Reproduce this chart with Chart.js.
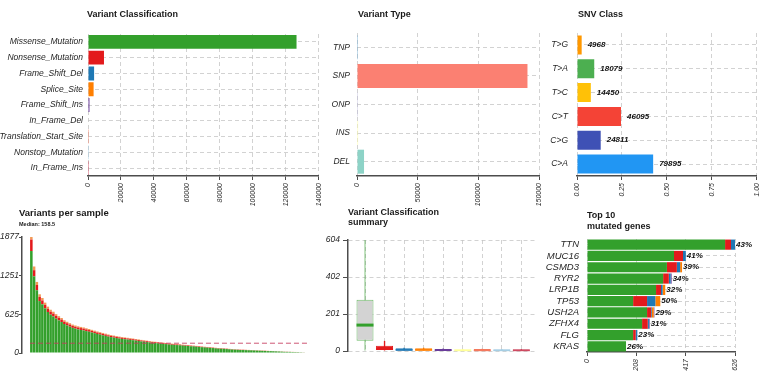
<!DOCTYPE html>
<html>
<head>
<meta charset="utf-8">
<title>MAF summary</title>
<script src="https://cdn.jsdelivr.net/npm/chart.js@4.4.1/dist/chart.umd.min.js"></script>
<style>
  body { margin: 0; background: #fff; }
  #page { position: relative; width: 768px; height: 384px; overflow: hidden; font-family: "Liberation Sans", Arial, sans-serif; }
  #page canvas { position: absolute; }
  .title { position: absolute; font-weight: bold; font-size: 9px; line-height: 11px; color: #1a1a1a; white-space: nowrap; }
  .sub { position: absolute; font-weight: bold; font-size: 5.5px; line-height: 6px; color: #1a1a1a; white-space: nowrap; }
</style>
</head>
<body>
<div id="page">
  <canvas id="varClassChart" width="330" height="215" style="left:0;top:0"></canvas>
  <canvas id="varTypeChart" width="240" height="215" style="left:320px;top:0"></canvas>
  <canvas id="snvClassChart" width="228" height="215" style="left:540px;top:0"></canvas>
  <canvas id="perSampleChart" width="330" height="184" style="left:0;top:200px"></canvas>
  <canvas id="classSummaryChart" width="244" height="184" style="left:316px;top:200px"></canvas>
  <canvas id="topGenesChart" width="228" height="184" style="left:540px;top:200px"></canvas>

  <div class="title" style="left:87px;top:9px">Variant Classification</div>
  <div class="title" style="left:358px;top:9px">Variant Type</div>
  <div class="title" style="left:578px;top:9px">SNV Class</div>
  <div class="title" style="left:19px;top:207px;font-size:9.5px">Variants per sample</div>
  <div class="sub" style="left:19px;top:221px">Median: 158.5</div>
  <div class="title" style="left:348px;top:207px;line-height:10px">Variant Classification<br>summary</div>
  <div class="title" style="left:587px;top:210px">Top 10<br>mutated genes</div>
</div>
<script>
// ---- data ----
const varClassLabels = ['Missense_Mutation', 'Nonsense_Mutation', 'Frame_Shift_Del', 'Splice_Site', 'Frame_Shift_Ins',
    'In_Frame_Del', 'Translation_Start_Site', 'Nonstop_Mutation', 'In_Frame_Ins'];
const varClassCounts = [126600, 9700, 3700, 3400, 900, 300, 60, 40, 30];
const varClassTicks = [0, 20000, 40000, 60000, 80000, 100000, 120000, 140000];

const varTypeLabels = ['TNP', 'SNP', 'ONP', 'INS', 'DEL'];
const varTypeCounts = [20, 140500, 80, 900, 5800];
const varTypeTicks = [0, 50000, 100000, 150000];

const snvLabels = ['T>G', 'T>A', 'T>C', 'C>T', 'C>G', 'C>A'];
const snvFractions = [0.026, 0.096, 0.077, 0.245, 0.132, 0.424];
const snvCounts = [4968, 18079, 14450, 46095, 24811, 79895];
const snvTicks = [0, 0.25, 0.5, 0.75, 1];

// variants per sample, sorted, split by class
const sampleMissense = [
    1650, 1240, 1015, 840, 788, 722, 663, 620, 591, 556,
    527, 501, 469, 447, 426, 407, 394, 383, 373, 365,
    354, 344, 332, 321, 308, 297, 287, 277, 265, 257,
    249, 242, 234, 228, 223, 218, 212, 207, 201, 195,
    187, 183, 177, 170, 165, 161, 158, 152, 148, 144,
    137, 134, 131, 128, 125, 120, 117, 113, 109, 107,
    102, 98, 94, 90, 87, 83, 80, 75, 71, 69,
    68, 64, 60, 56, 54, 52, 49, 48, 46, 44,
    43, 41, 39, 37, 35, 33, 30, 30, 28, 26,
    24, 22, 19, 18, 18, 16, 15, 14, 12, 10
];
const sampleNonsense = [
    185, 100, 85, 68, 62, 57, 53, 49, 47, 44,
    42, 40, 37, 35, 34, 32, 31, 30, 30, 29,
    28, 27, 26, 25, 24, 24, 23, 22, 21, 20,
    20, 19, 19, 18, 18, 17, 17, 16, 16, 15,
    15, 14, 14, 14, 13, 13, 12, 12, 12, 11,
    11, 11, 10, 10, 10, 10, 9, 9, 9, 8,
    8, 8, 7, 7, 7, 7, 6, 6, 6, 6,
    5, 5, 5, 5, 4, 4, 4, 4, 4, 4,
    3, 3, 3, 3, 3, 3, 3, 2, 2, 2,
    2, 2, 2, 2, 1, 1, 1, 1, 1, 1
];
const sampleOther = [
    42, 60, 50, 42, 40, 36, 34, 31, 30, 28,
    27, 25, 24, 23, 22, 21, 20, 19, 19, 19,
    18, 17, 17, 16, 16, 15, 15, 14, 14, 13,
    13, 12, 12, 12, 11, 11, 11, 11, 10, 10,
    10, 9, 9, 9, 8, 8, 8, 8, 8, 7,
    7, 7, 7, 7, 6, 6, 6, 6, 6, 5,
    5, 5, 5, 5, 4, 4, 4, 4, 4, 4,
    3, 3, 3, 3, 3, 3, 3, 2, 2, 2,
    2, 2, 2, 2, 2, 2, 2, 1, 1, 1,
    1, 1, 1, 1, 1, 1, 1, 1, 0, 0
];
const sampleMedian = 158.5;
const sampleTicks = [0, 625, 1251, 1877];

// boxplot summary per variant class (same order as varClassLabels)
const boxMin = [0, 0, 0, 0, 0, 0, 0, 0, 0];
const boxQ1 = [56, 5, 2, 2, 0, 0, 0, 0, 0];
const boxMedian = [141, 11, 6, 6, 4, 3, 3, 3, 3];
const boxQ3 = [279, 29, 15, 15, 11, 10, 11, 10, 10];
const boxMax = [604, 55, 18, 18, 13, 11, 12, 11, 11];
const summaryTicks = [0, 201, 402, 604];

const geneLabels = ['TTN', 'MUC16', 'CSMD3', 'RYR2', 'LRP1B', 'TP53', 'USH2A', 'ZFHX4', 'FLG', 'KRAS'];
const geneMissense = [584, 368, 338, 322, 292, 195, 254, 233, 195, 165];
const geneNonsense = [25, 38, 42, 24, 21, 59, 17, 24, 11, 0];
const geneFrameShiftDel = [17, 12, 14, 8, 7, 35, 3, 5, 7, 0];
const geneSpliceSite = [0, 0, 8, 0, 11, 21, 8, 0, 0, 0];
const geneFrameShiftIns = [0, 0, 0, 4, 0, 0, 3, 3, 0, 0];
const genePercent = ['43%', '41%', '39%', '34%', '32%', '50%', '29%', '31%', '23%', '26%'];
const geneTicks = [0, 208, 417, 626];

// ---- styles ----
const FONT = '"Liberation Sans", Arial, sans-serif';
const TEXT_COLOR = '#262626';
const AXIS_COLOR = '#4d4d4d';
const GRID_COLOR = 'rgba(195, 195, 195, 0.75)';

const CLASS_COLORS = {
    Missense_Mutation: '#33A02C',
    Nonsense_Mutation: '#E31A1C',
    Frame_Shift_Del: '#1F78B4',
    Splice_Site: '#FF7F00',
    Frame_Shift_Ins: '#6A3D9A',
    In_Frame_Del: '#FFFF99',
    Translation_Start_Site: '#F4795F',
    Nonstop_Mutation: '#A6CEE3',
    In_Frame_Ins: '#CE4A61'
};
const TYPE_COLORS = ['#80B1D3', '#FB8072', '#BEBADA', '#FFFFB3', '#8DD3C7'];
const SNV_COLORS = ['#FF9800', '#4CAF50', '#FFC107', '#F44336', '#3F51B5', '#2196F3'];

Chart.defaults.responsive = false;
Chart.defaults.animation = false;
Chart.defaults.devicePixelRatio = 1;
Chart.defaults.font.family = FONT;
Chart.defaults.color = TEXT_COLOR;
Chart.defaults.plugins.legend.display = false;
Chart.defaults.plugins.tooltip.enabled = false;

const el = id => document.getElementById(id);
const toXY = arr => arr.map((v, i) => ({ x: i, y: v }));

function valueAxis(cfg) {
    return {
        type: 'linear', min: cfg.min, max: cfg.max, z: 1,
        stacked: !!cfg.stacked,
        afterBuildTicks: s => { s.ticks = cfg.ticks.map(v => ({ value: v })); },
        afterFit: s => { s.height = cfg.height; },
        grid: { color: GRID_COLOR, tickColor: AXIS_COLOR, tickLength: 4, tickWidth: 1 },
        border: { color: AXIS_COLOR, width: 1.5, dash: [4, 3] },
        ticks: {
            autoSkip: false, minRotation: 90, maxRotation: 90, padding: 3,
            font: { size: 7, style: 'italic' },
            callback: cfg.format || (v => String(v))
        }
    };
}

function categoryAxis(cfg) {
    return {
        z: 1,
        stacked: !!cfg.stacked,
        afterFit: s => { s.width = cfg.width; },
        grid: { color: GRID_COLOR, drawTicks: false, offset: false },
        border: { display: false, dash: [4, 3] },
        ticks: { autoSkip: false, padding: cfg.padding, font: { size: cfg.size, style: 'italic' } }
    };
}

// text at the end of each bar (last dataset)
const endLabels = {
    id: 'endLabels',
    afterDraw(chart, args, opts) {
        const meta = chart.getDatasetMeta(chart.data.datasets.length - 1);
        const ctx = chart.ctx;
        ctx.save();
        ctx.font = 'italic bold 8px ' + FONT;
        ctx.fillStyle = '#111';
        ctx.textAlign = 'left';
        ctx.textBaseline = 'middle';
        meta.data.forEach((bar, i) => ctx.fillText(opts.texts[i], bar.x + opts.offset, bar.y));
        ctx.restore();
    }
};

const medianLine = {
    id: 'medianLine',
    afterDatasetsDraw(chart, args, opts) {
        const { ctx, scales: { x, y }, chartArea } = chart;
        const py = y.getPixelForValue(opts.value);
        ctx.save();
        ctx.setLineDash([5, 3]);
        ctx.strokeStyle = 'rgba(196, 58, 92, 0.85)';
        ctx.lineWidth = 1;
        ctx.beginPath();
        ctx.moveTo(x.getPixelForValue(-0.5), py);
        ctx.lineTo(chartArea.right + 5, py);
        ctx.stroke();
        ctx.restore();
    }
};

const boxMedians = {
    id: 'boxMedians',
    afterDatasetsDraw(chart, args, opts) {
        const meta = chart.getDatasetMeta(0);
        const { ctx, scales: { y } } = chart;
        ctx.save();
        meta.data.forEach((box, i) => {
            const py = y.getPixelForValue(opts.values[i]);
            ctx.strokeStyle = opts.colors[i];
            ctx.lineWidth = i === 0 ? 3 : 1.5;
            ctx.beginPath();
            ctx.moveTo(box.x - box.width / 2, py);
            ctx.lineTo(box.x + box.width / 2, py);
            ctx.stroke();
        });
        ctx.restore();
    }
};

const classColorList = varClassLabels.map(c => CLASS_COLORS[c]);

// Variant Classification
new Chart(el('varClassChart'), {
    type: 'bar',
    data: {
        labels: varClassLabels,
        datasets: [{ data: varClassCounts, backgroundColor: classColorList, barPercentage: 0.88, categoryPercentage: 1 }]
    },
    options: {
        indexAxis: 'y',
        layout: { padding: { top: 34, right: 11, left: 0, bottom: 0 } },
        scales: {
            x: valueAxis({ min: 0, max: 140000, ticks: varClassTicks, height: 39 }),
            y: categoryAxis({ width: 88, size: 8.5, padding: 5 })
        }
    }
});

// Variant Type
new Chart(el('varTypeChart'), {
    type: 'bar',
    data: {
        labels: varTypeLabels,
        datasets: [{ data: varTypeCounts, backgroundColor: TYPE_COLORS, barPercentage: 0.84, categoryPercentage: 1 }]
    },
    options: {
        indexAxis: 'y',
        layout: { padding: { top: 33, right: 21, left: 0, bottom: 0 } },
        scales: {
            x: valueAxis({ min: 0, max: 150000, ticks: varTypeTicks, height: 39 }),
            y: categoryAxis({ width: 37, size: 8.5, padding: 7 })
        }
    }
});

// SNV Class
new Chart(el('snvClassChart'), {
    type: 'bar',
    data: {
        labels: snvLabels,
        datasets: [{ data: snvFractions, backgroundColor: SNV_COLORS, barPercentage: 0.8, categoryPercentage: 1 }]
    },
    options: {
        indexAxis: 'y',
        layout: { padding: { top: 33, right: 9, left: 0, bottom: 0 } },
        scales: {
            x: valueAxis({ min: 0, max: 1, ticks: snvTicks, height: 39, format: v => v.toFixed(2) }),
            y: categoryAxis({ width: 37, size: 8.5, padding: 9 })
        },
        plugins: { endLabels: { texts: snvCounts.map(String), offset: 6 } }
    },
    plugins: [endLabels]
});

// Variants per sample
new Chart(el('perSampleChart'), {
    type: 'bar',
    data: {
        datasets: [
            { data: toXY(sampleMissense), backgroundColor: CLASS_COLORS.Missense_Mutation },
            { data: toXY(sampleNonsense), backgroundColor: CLASS_COLORS.Nonsense_Mutation },
            { data: toXY(sampleOther), backgroundColor: '#F29A55' }
        ]
    },
    options: {
        datasets: { bar: { barPercentage: 0.92, categoryPercentage: 1 } },
        layout: { padding: { top: 37, right: 25, bottom: 31, left: 0 } },
        scales: {
            x: { type: 'linear', min: -3.4, max: 99.5, offset: false, stacked: true, display: false },
            y: {
                stacked: true, min: 0, max: 1877,
                afterBuildTicks: s => { s.ticks = sampleTicks.map(v => ({ value: v })); },
                afterFit: s => { s.width = 22; },
                grid: { drawOnChartArea: false, tickLength: 3, color: AXIS_COLOR },
                border: { color: AXIS_COLOR, width: 1.5 },
                ticks: { padding: 0, font: { size: 8.5, style: 'italic' }, callback: v => String(v) }
            }
        },
        plugins: { medianLine: { value: sampleMedian } }
    },
    plugins: [medianLine]
});

// Variant Classification summary (boxplots)
const boxFills = classColorList.map((c, i) => i === 0 ? '#D3D3D3' : c);
const boxBorders = classColorList.map((c, i) => i === 0 ? '#72BE6C' : c);
const whiskerColors = classColorList.map((c, i) => i === 0 ? 'rgba(51,160,44,0.45)' : c);

new Chart(el('classSummaryChart'), {
    type: 'bar',
    data: {
        datasets: [
            {
                data: boxQ1.map((q, i) => ({ x: i, y: [q, boxQ3[i]] })),
                backgroundColor: boxFills, borderColor: boxBorders, borderWidth: 1, borderSkipped: false,
                barPercentage: 0.87, categoryPercentage: 1, grouped: false
            },
            {
                data: boxMin.map((m, i) => ({ x: i, y: [m, boxMax[i]] })),
                backgroundColor: whiskerColors,
                barPercentage: 0.07, categoryPercentage: 1, grouped: false
            }
        ]
    },
    options: {
        layout: { padding: { top: 40, right: 23, left: 0, bottom: 0 } },
        scales: {
            x: {
                type: 'linear', min: -0.87, max: 8.8, offset: false,
                afterBuildTicks: s => { s.ticks = varClassLabels.map((_, i) => ({ value: i })); },
                afterFit: s => { s.height = 33; },
                grid: { color: GRID_COLOR, drawTicks: false, offset: false },
                border: { display: false, dash: [4, 3] },
                ticks: { display: false }
            },
            y: {
                min: 0, max: 604,
                afterBuildTicks: s => { s.ticks = summaryTicks.map(v => ({ value: v })); },
                afterFit: s => { s.width = 32; },
                grid: { color: GRID_COLOR, tickColor: AXIS_COLOR, tickLength: 5, tickWidth: 1 },
                border: { color: AXIS_COLOR, width: 1.5, dash: [4, 3] },
                ticks: { padding: 3, font: { size: 8.5, style: 'italic' } }
            }
        },
        plugins: { boxMedians: { values: boxMedian, colors: classColorList } }
    },
    plugins: [boxMedians]
});

// Top 10 mutated genes
const geneDatasets = [
    { label: 'Missense_Mutation', data: geneMissense },
    { label: 'Nonsense_Mutation', data: geneNonsense },
    { label: 'Frame_Shift_Del', data: geneFrameShiftDel },
    { label: 'Splice_Site', data: geneSpliceSite },
    { label: 'Frame_Shift_Ins', data: geneFrameShiftIns }
].map(d => ({ ...d, backgroundColor: CLASS_COLORS[d.label], barPercentage: 0.9, categoryPercentage: 1 }));

new Chart(el('topGenesChart'), {
    type: 'bar',
    data: { labels: geneLabels, datasets: geneDatasets },
    options: {
        indexAxis: 'y',
        layout: { padding: { top: 39, right: 33, left: 0, bottom: 0 } },
        scales: {
            x: valueAxis({ min: 0, max: 626, ticks: geneTicks, height: 32, stacked: true }),
            y: categoryAxis({ width: 47, size: 9.5, padding: 8, stacked: true })
        },
        plugins: { endLabels: { texts: genePercent, offset: 1 } }
    },
    plugins: [endLabels]
});
</script>
</body>
</html>
